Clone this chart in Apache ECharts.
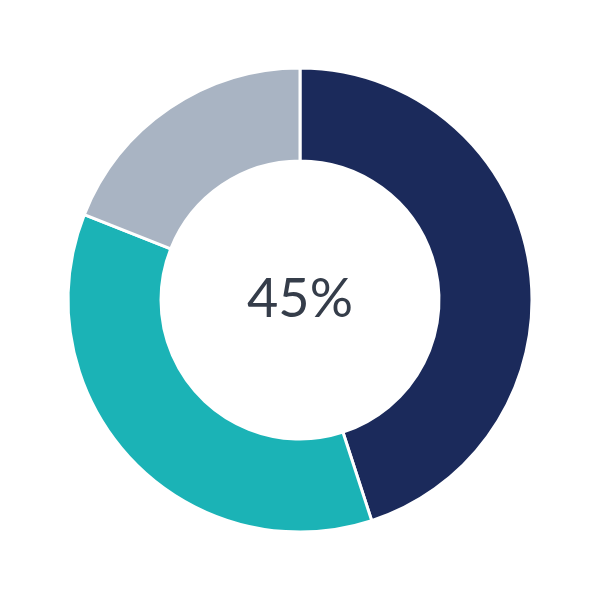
<!DOCTYPE html>
<html>
<head>
<meta charset="utf-8">
<script src="https://cdn.jsdelivr.net/npm/echarts@6/dist/echarts.min.js"></script>
<style>
  html, body {margin: 0; padding: 0; background: #fff;}
  #main {width: 600px; height: 600px;}
</style>
</head>
<body>
<div id="main"></div>
<script>
const names = ['A', 'B', 'C'];
const values = [45, 36, 19];
const colors = ['#1b2a5b', '#1bb3b6', '#a9b4c3'];
const centerLabel = '45%';

const chartDom = document.getElementById('main');
const myChart = echarts.init(chartDom);
let option;

option = {
    animation: false,
    title: {
        text: centerLabel,
        left: 'center',
        top: 'middle',
        textStyle: {
            fontFamily: 'Lato',
            fontWeight: 400,
            fontSize: 54,
            color: '#353d4a'
        }
    },
    series: [
        {
            type: 'pie',
            center: ['50%', '50%'],
            radius: [139, 232],
            startAngle: 90,
            clockwise: true,
            label: {show: false},
            labelLine: {show: false},
            itemStyle: {
                borderColor: '#ffffff',
                borderWidth: 3
            },
            data: names.map((n, i) => ({name: n, value: values[i], itemStyle: {color: colors[i]}}))
        }
    ]
};

option && myChart.setOption(option);
</script>
</body>
</html>
